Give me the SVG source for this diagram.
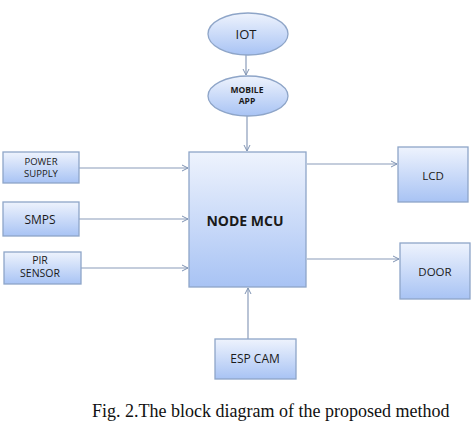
<svg xmlns="http://www.w3.org/2000/svg" width="474" height="422" viewBox="0 0 474 422">
<defs>
<linearGradient id="g" x1="0" y1="0" x2="0" y2="1">
<stop offset="0" stop-color="#eef3fd"/>
<stop offset="1" stop-color="#a8c3f4"/>
</linearGradient>
<marker id="ah" markerWidth="8" markerHeight="8" refX="7" refY="4" orient="auto" markerUnits="userSpaceOnUse">
<path d="M1,1 L7,4 L1,7" fill="none" stroke="#7f93b3" stroke-width="1"/>
</marker>
<style>
.box{fill:url(#g);stroke:#8ea5c8;stroke-width:1.3}
.t{font-family:"Open Sans","Liberation Sans",sans-serif;fill:#1a1a1a;text-anchor:middle}
.c{stroke:#8a9cba;stroke-width:1.2;fill:none;marker-end:url(#ah)}
</style>
</defs>
<rect width="474" height="422" fill="#fff"/>
<g id="connectors">
<line class="c" x1="246" y1="55" x2="246" y2="75"/>
<line class="c" x1="247" y1="116" x2="247" y2="151"/>
<line class="c" x1="79" y1="168" x2="188" y2="168"/>
<line class="c" x1="79" y1="219" x2="188" y2="219"/>
<line class="c" x1="81" y1="268" x2="188" y2="268"/>
<line class="c" x1="307" y1="164" x2="397" y2="164"/>
<line class="c" x1="307" y1="259" x2="399" y2="259"/>
<line class="c" x1="248" y1="339" x2="248" y2="288"/>
</g>
<g id="iot">
<ellipse class="box" cx="248" cy="34" rx="40" ry="21"/>
<text class="t" x="246" y="39" font-size="13">IOT</text>
</g>
<g id="mobile-app">
<ellipse class="box" cx="248" cy="96" rx="40" ry="20"/>
<text class="t" x="247" y="93" font-size="8.5" font-weight="bold">MOBILE</text>
<text class="t" x="247" y="104" font-size="8.5" font-weight="bold">APP</text>
</g>
<g id="power-supply">
<rect class="box" x="3" y="152" width="76" height="31"/>
<text class="t" x="41" y="165" font-size="9.5">POWER</text>
<text class="t" x="41" y="177" font-size="9.5">SUPPLY</text>
</g>
<g id="smps">
<rect class="box" x="3" y="202" width="76" height="34"/>
<text class="t" x="40" y="224" font-size="12">SMPS</text>
</g>
<g id="pir-sensor">
<rect class="box" x="4" y="252" width="77" height="32"/>
<text class="t" x="40" y="264" font-size="10.5">PIR</text>
<text class="t" x="40" y="277" font-size="10.5">SENSOR</text>
</g>
<g id="node-mcu">
<rect class="box" x="189" y="152" width="117" height="135"/>
<text class="t" x="245" y="226" font-size="14" font-weight="bold">NODE MCU</text>
</g>
<g id="lcd">
<rect class="box" x="398" y="147" width="70" height="55"/>
<text class="t" x="433" y="180" font-size="11.5">LCD</text>
</g>
<g id="door">
<rect class="box" x="400" y="243" width="70" height="56"/>
<text class="t" x="435" y="276" font-size="11.5">DOOR</text>
</g>
<g id="esp-cam">
<rect class="box" x="215" y="339" width="81" height="40"/>
<text class="t" x="255" y="363" font-size="12">ESP CAM</text>
</g>
<text x="92" y="417" font-family="'Liberation Serif',serif" font-size="18" fill="#111">Fig. 2.The block diagram of the proposed method</text>
</svg>
